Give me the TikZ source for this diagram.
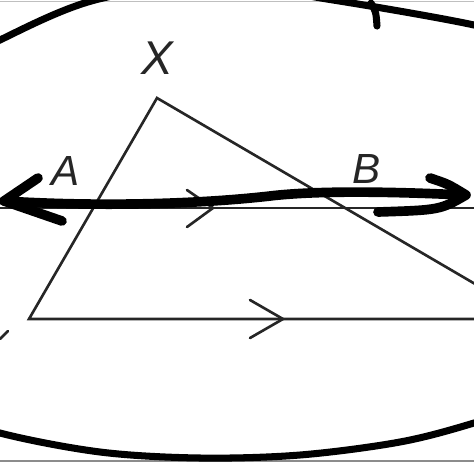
\documentclass[tikz,border=0pt]{standalone}
\usepackage{fontspec}
\setmainfont{Liberation Sans}
\usetikzlibrary{positioning,calc}

\begin{document}
\begin{tikzpicture}[x=0.02cm,y=-0.02cm,
    lato/.style={draw=black!85, line width=1.5pt},
    segno/.style={draw=black!85, line width=1.5pt, line cap=round, line join=miter},
    penna/.style={draw=black, line width=5.5pt, line cap=round, line join=round},
    lettera/.style={font=\fontsize{24}{28}\selectfont\itshape, text=black!85, inner sep=0pt}]
    \useasboundingbox (0,0) rectangle (474,474);
    \clip (0,0) rectangle (474,474);
    % bordi grigi della figura
    \draw[black!25, line width=1pt] (0,1.5) -- (474,1.5);
    \draw[black!45, line width=1.2pt] (0,461) -- (474,461);
    % vertici del triangolo
    \coordinate (vX) at (157,98);
    \coordinate (vL) at (29,319);
    \coordinate (vR) at (535,319);
    \draw[lato] (vL) -- (vX) -- (vR) -- cycle;
    % retta AB parallela alla base
    \coordinate (ab0) at (0,208);
    \coordinate (ab1) at (474,208);
    \draw[lato] (ab0) -- (ab1);
    % segni di parallelismo
    \draw[segno] (187,190) -- (213,208) -- (187,227);
    \draw[segno] (250,300) -- (283,319) -- (250,338);
    \draw[segno] (0,339) -- (8,331);
    % etichette
    \node[lettera, font=\fontsize{27}{30}\selectfont\itshape] (X) at (157,58) {X};
    \node[lettera] (A) at (66,171) {A};
    \node[lettera] (B) at (367,169) {B};
    % freccia doppia disegnata a mano
    \draw[penna] (4,201) .. controls (100,207) and (200,204) .. (270,196)
        .. controls (320,190) and (400,192) .. (464,195);
    \draw[penna] (38,178) -- (4,201) -- (62,221);
    \draw[penna] (430,178) .. controls (448,184) .. (466,195)
        .. controls (440,210) .. (378,212);
    % ellisse disegnata a mano
    \draw[penna, line width=4pt] plot[smooth cycle, tension=0.55] coordinates {
        (-100,240) (-60,75) (0,40) (95,0) (215,-16) (333,0) (474,25) (540,45)
        (580,220) (540,400) (474,423) (400,442) (300,455) (200,458) (100,452)
        (0,433) (-60,410)};
    \draw[penna, line width=4pt] (371,3) .. controls (376,12) .. (377,26);
\end{tikzpicture}
\end{document}
